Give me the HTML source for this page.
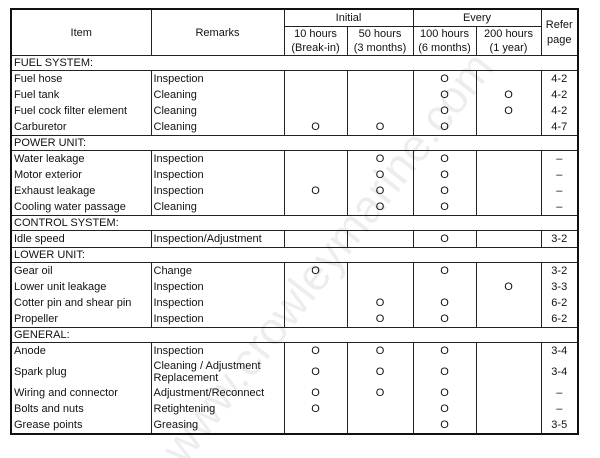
<!DOCTYPE html>
<html><head><meta charset="utf-8"><style>
html,body{margin:0;padding:0;background:#fff;width:600px;height:458px;overflow:hidden;position:relative}
.wrap{position:absolute;left:0;top:0;width:600px;height:458px;overflow:hidden}
table{position:absolute;left:10px;top:8px;width:567px;border-collapse:collapse;table-layout:fixed;border:2px solid #111;font-family:"Liberation Sans",Arial,sans-serif;font-size:11px;color:#111}
td{padding:0 0 0 2px;height:16px;line-height:16px;border-left:1px solid #222;border-right:1px solid #222;white-space:nowrap;overflow:hidden}
td.c{text-align:center;padding:0}
tr.s td{border-top:1px solid #222;border-bottom:1px solid #222;height:14px;line-height:14px}
tr.h td{text-align:center;padding:0;border:1px solid #222;line-height:14px}
.w{position:absolute;font-family:"Liberation Sans",sans-serif;font-size:46px;color:rgba(0,0,0,0.07);transform:rotate(-52deg);transform-origin:left top;white-space:nowrap;left:150px;top:440px}
</style></head><body><div class="wrap">
<table>
<colgroup><col style="width:140px"><col style="width:133px"><col style="width:63px"><col style="width:66px"><col style="width:63px"><col style="width:65px"><col style="width:37px"></colgroup>
<tr class="h"><td rowspan="2">Item</td><td rowspan="2">Remarks</td><td colspan="2" style="height:14px">Initial</td><td colspan="2">Every</td><td rowspan="2" style="line-height:15px">Refer<br>page</td></tr>
<tr class="h"><td style="height:27px">10 hours<br>(Break-in)</td><td>50 hours<br>(3 months)</td><td>100 hours<br>(6 months)</td><td>200 hours<br>(1 year)</td></tr>
<tr class="s"><td colspan="7">FUEL SYSTEM:</td></tr>
<tr><td>Fuel hose</td><td>Inspection</td><td class="c"></td><td class="c"></td><td class="c">O</td><td class="c"></td><td class="c">4-2</td></tr>
<tr><td>Fuel tank</td><td>Cleaning</td><td class="c"></td><td class="c"></td><td class="c">O</td><td class="c">O</td><td class="c">4-2</td></tr>
<tr><td>Fuel cock filter element</td><td>Cleaning</td><td class="c"></td><td class="c"></td><td class="c">O</td><td class="c">O</td><td class="c">4-2</td></tr>
<tr><td>Carburetor</td><td>Cleaning</td><td class="c">O</td><td class="c">O</td><td class="c">O</td><td class="c"></td><td class="c">4-7</td></tr>
<tr class="s"><td colspan="7">POWER UNIT:</td></tr>
<tr><td>Water leakage</td><td>Inspection</td><td class="c"></td><td class="c">O</td><td class="c">O</td><td class="c"></td><td class="c">–</td></tr>
<tr><td>Motor exterior</td><td>Inspection</td><td class="c"></td><td class="c">O</td><td class="c">O</td><td class="c"></td><td class="c">–</td></tr>
<tr><td>Exhaust leakage</td><td>Inspection</td><td class="c">O</td><td class="c">O</td><td class="c">O</td><td class="c"></td><td class="c">–</td></tr>
<tr><td>Cooling water passage</td><td>Cleaning</td><td class="c"></td><td class="c">O</td><td class="c">O</td><td class="c"></td><td class="c">–</td></tr>
<tr class="s"><td colspan="7">CONTROL SYSTEM:</td></tr>
<tr><td>Idle speed</td><td>Inspection/Adjustment</td><td class="c"></td><td class="c"></td><td class="c">O</td><td class="c"></td><td class="c">3-2</td></tr>
<tr class="s"><td colspan="7">LOWER UNIT:</td></tr>
<tr><td>Gear oil</td><td>Change</td><td class="c">O</td><td class="c"></td><td class="c">O</td><td class="c"></td><td class="c">3-2</td></tr>
<tr><td>Lower unit leakage</td><td>Inspection</td><td class="c"></td><td class="c"></td><td class="c"></td><td class="c">O</td><td class="c">3-3</td></tr>
<tr><td>Cotter pin and shear pin</td><td>Inspection</td><td class="c"></td><td class="c">O</td><td class="c">O</td><td class="c"></td><td class="c">6-2</td></tr>
<tr><td>Propeller</td><td>Inspection</td><td class="c"></td><td class="c">O</td><td class="c">O</td><td class="c"></td><td class="c">6-2</td></tr>
<tr class="s"><td colspan="7">GENERAL:</td></tr>
<tr><td>Anode</td><td>Inspection</td><td class="c">O</td><td class="c">O</td><td class="c">O</td><td class="c"></td><td class="c">3-4</td></tr>
<tr><td style="height:26px">Spark plug</td><td style="line-height:12px">Cleaning / Adjustment<br>Replacement</td><td class="c">O</td><td class="c">O</td><td class="c">O</td><td class="c"></td><td class="c">3-4</td></tr>
<tr><td>Wiring and connector</td><td>Adjustment/Reconnect</td><td class="c">O</td><td class="c">O</td><td class="c">O</td><td class="c"></td><td class="c">–</td></tr>
<tr><td>Bolts and nuts</td><td>Retightening</td><td class="c">O</td><td class="c"></td><td class="c">O</td><td class="c"></td><td class="c">–</td></tr>
<tr><td>Grease points</td><td>Greasing</td><td class="c"></td><td class="c"></td><td class="c">O</td><td class="c"></td><td class="c">3-5</td></tr>
</table>
<div class="w">www.crowleymarine.com</div>
</div></body></html>
